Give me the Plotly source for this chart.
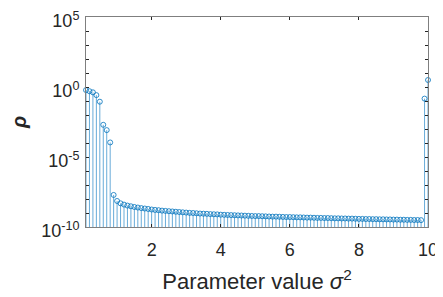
import plotly.graph_objects as go

# Parameter values sigma^2 (0.1 .. 10, step 0.1)
sigma2 = [round(0.1 * (i + 1), 1) for i in range(100)]

# log10(rho)
log_rho = [
    -0.22, -0.30, -0.38, -0.58, -1.05, -2.70, -3.08, -3.96, -7.71, -8.14,
    -8.31, -8.40, -8.47, -8.52, -8.57, -8.61, -8.65, -8.68, -8.71, -8.75,
    -8.78, -8.80, -8.83, -8.85, -8.87, -8.89, -8.91, -8.93, -8.95, -8.97,
    -8.99, -9.00, -9.02, -9.04, -9.05, -9.06, -9.08, -9.09, -9.10, -9.12,
    -9.13, -9.14, -9.15, -9.16, -9.17, -9.18, -9.19, -9.20, -9.21, -9.22,
    -9.22, -9.23, -9.24, -9.25, -9.26, -9.26, -9.27, -9.28, -9.29, -9.29,
    -9.30, -9.31, -9.31, -9.32, -9.33, -9.33, -9.34, -9.35, -9.35, -9.36,
    -9.36, -9.37, -9.38, -9.38, -9.39, -9.39, -9.40, -9.40, -9.41, -9.42,
    -9.42, -9.43, -9.43, -9.44, -9.44, -9.45, -9.45, -9.46, -9.46, -9.47,
    -9.47, -9.48, -9.48, -9.49, -9.49, -9.50, -9.50, -9.51, -0.83, 0.50,
]
rho = [10 ** v for v in log_rho]

baseline = 1e-10
y_tickvals = [10.0 ** k for k in range(-10, 6)]
y_ticktext = ["10<sup>%d</sup>" % k if k % 5 == 0 else "" for k in range(-10, 6)]
x_tickvals = [2, 4, 6, 8, 10]
x_ticktext = ["2", "4", "6", "8", "10"]

blue = "#0072BD"
axis_col = "#262626"

# stems from the baseline to each value
sx, sy = [], []
for xv, yv in zip(sigma2, rho):
    sx += [xv, xv, None]
    sy += [baseline, yv, None]

fig = go.Figure()
fig.add_trace(go.Scatter(x=sx, y=sy, mode="lines",
                         line=dict(color=blue, width=0.6),
                         hoverinfo="skip", showlegend=False, cliponaxis=True))
fig.add_trace(go.Scatter(x=sigma2, y=rho, mode="markers",
                         marker=dict(symbol="circle-open", size=5,
                                     color=blue, line=dict(width=0.8, color=blue)),
                         showlegend=False, cliponaxis=False))

font_family = "Liberation Sans, Arial, Helvetica, sans-serif"
fig.update_layout(
    width=435, height=289,
    margin=dict(l=78, r=15, t=9, b=70),
    paper_bgcolor="white", plot_bgcolor="white",
    font=dict(family=font_family, color=axis_col, size=18),
    xaxis=dict(
        range=[0.1, 10], tickvals=x_tickvals, ticktext=x_ticktext,
        automargin=False, ticklabeloverflow="allow",
        ticks="inside", ticklen=3, tickcolor=axis_col, tickwidth=0.6,
        ticklabelstandoff=6,
        showline=True, linecolor="#7f7f7f", linewidth=1, mirror="ticks",
        showgrid=False, zeroline=False,
        tickfont=dict(size=18, color=axis_col),
        title=dict(text="Parameter value <i>σ</i><sup>2</sup>",
                   font=dict(size=22, color=axis_col), standoff=15),
    ),
    yaxis=dict(
        type="log", range=[-10, 5], tickvals=y_tickvals, ticktext=y_ticktext,
        automargin=False, ticklabeloverflow="allow",
        ticks="inside", ticklen=3, tickcolor=axis_col, tickwidth=0.6,
        ticklabelstandoff=2, ticklabelshift=4,
        showline=True, linecolor="#7f7f7f", linewidth=1, mirror="ticks",
        showgrid=False, zeroline=False,
        tickfont=dict(size=18, color=axis_col),
        title=dict(text="<b><i>ρ</i></b>", font=dict(size=20, color=axis_col),
                   standoff=14),
    ),
)

fig.write_html("out.html")
